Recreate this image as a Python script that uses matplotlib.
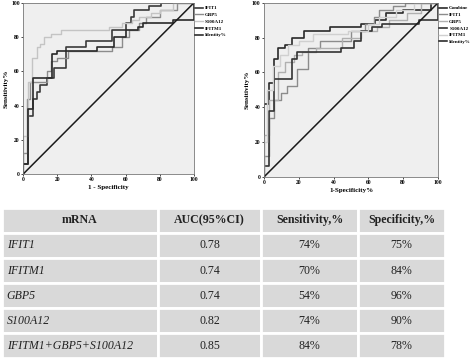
import matplotlib.pyplot as plt

plt.rcParams['font.family'] = ['Liberation Serif', 'DejaVu Serif']

# ---- left ROC panel ----
L_IFIT1_x = [0, 0, 3, 3, 6, 6, 8, 8, 10, 10, 14, 14, 18, 18, 25, 25, 37, 37, 52, 52, 60, 60, 63, 63, 65, 65, 74, 74, 81, 81, 100]
L_IFIT1_y = [0, 6, 6, 34, 34, 44, 44, 48, 48, 52, 52, 56, 56, 62, 62, 74, 74, 78, 78, 84, 84, 88, 88, 92, 92, 96, 96, 98, 98, 100, 100]
L_GBP5_x = [0, 0, 2, 2, 4, 4, 14, 14, 16, 16, 20, 20, 26, 26, 52, 52, 58, 58, 62, 62, 68, 68, 72, 72, 80, 80, 90, 90, 100]
L_GBP5_y = [0, 12, 12, 44, 44, 54, 54, 60, 60, 66, 66, 68, 68, 72, 72, 74, 74, 80, 80, 84, 84, 88, 88, 92, 92, 96, 96, 100, 100]
L_S100_x = [0, 0, 3, 3, 5, 5, 8, 8, 10, 10, 12, 12, 16, 16, 22, 22, 50, 50, 58, 58, 64, 64, 68, 68, 75, 75, 80, 80, 88, 88, 100]
L_S100_y = [0, 22, 22, 54, 54, 68, 68, 74, 74, 76, 76, 80, 80, 82, 82, 84, 84, 86, 86, 88, 88, 90, 90, 92, 92, 94, 94, 96, 96, 100, 100]
L_IFITM1_x = [0, 0, 3, 3, 6, 6, 17, 17, 20, 20, 43, 43, 53, 53, 60, 60, 67, 67, 70, 70, 88, 88, 100, 100]
L_IFITM1_y = [0, 6, 6, 38, 38, 56, 56, 70, 70, 72, 72, 74, 74, 80, 80, 84, 84, 86, 86, 88, 88, 90, 90, 100]

# ---- right ROC panel ----
R_COMB_x = [0, 0, 3, 3, 6, 6, 8, 8, 12, 12, 16, 16, 23, 23, 38, 38, 56, 56, 64, 64, 70, 70, 80, 80, 96, 96, 100]
R_COMB_y = [0, 42, 42, 54, 54, 68, 68, 74, 74, 76, 76, 80, 80, 84, 84, 86, 86, 88, 88, 90, 90, 94, 94, 96, 96, 100, 100]
R_IFIT1_x = [0, 0, 3, 3, 6, 6, 10, 10, 13, 13, 19, 19, 25, 25, 32, 32, 50, 50, 58, 58, 63, 63, 66, 66, 74, 74, 81, 81, 100]
R_IFIT1_y = [0, 12, 12, 34, 34, 44, 44, 48, 48, 52, 52, 62, 62, 74, 74, 78, 78, 84, 84, 88, 88, 92, 92, 96, 96, 98, 98, 100, 100]
R_GBP5_x = [0, 0, 3, 3, 8, 8, 12, 12, 17, 17, 22, 22, 30, 30, 45, 45, 56, 56, 65, 65, 72, 72, 82, 82, 90, 90, 100]
R_GBP5_y = [0, 24, 24, 44, 44, 60, 60, 66, 66, 70, 70, 72, 72, 74, 74, 80, 80, 84, 84, 86, 86, 90, 90, 94, 94, 100, 100]
R_S100_x = [0, 0, 3, 3, 6, 6, 16, 16, 19, 19, 44, 44, 52, 52, 56, 56, 62, 62, 68, 68, 89, 89, 100, 100]
R_S100_y = [0, 6, 6, 38, 38, 56, 56, 68, 68, 72, 72, 74, 74, 78, 78, 84, 84, 86, 86, 88, 88, 90, 90, 100]
R_IFITM1_x = [0, 0, 2, 2, 5, 5, 9, 9, 14, 14, 20, 20, 28, 28, 48, 48, 60, 60, 66, 66, 76, 76, 86, 86, 100]
R_IFITM1_y = [0, 20, 20, 50, 50, 64, 64, 70, 70, 76, 76, 78, 78, 82, 82, 84, 84, 88, 88, 92, 92, 96, 96, 100, 100]

identity = [0, 100]

# ---- table ----
col_labels = ['mRNA', 'AUC(95%CI)', 'Sensitivity,%', 'Specificity,%']
genes = ['IFIT1', 'IFITM1', 'GBP5', 'S100A12', 'IFITM1+GBP5+S100A12']
auc = ['0.78', '0.74', '0.74', '0.82', '0.85']
sens = ['74%', '70%', '54%', '74%', '84%']
spec = ['75%', '84%', '96%', '90%', '78%']

fig = plt.figure(figsize=(4.74, 3.61), dpi=100)

def roc_axes(rect, curves, xlabel):
    ax = fig.add_axes(rect)
    ax.set_facecolor('#efefef')
    for xs, ys, c, lw, lab in curves:
        ax.plot(xs, ys, color=c, lw=lw, label=lab)
    ax.plot(identity, identity, color='#1a1a1a', lw=1.1, label='Identity%')
    ax.set_xlim(0, 100)
    ax.set_ylim(0, 100)
    ax.set_xticks(range(0, 101, 20))
    ax.set_yticks(range(0, 101, 20))
    ax.tick_params(labelsize=4, length=1.5, width=0.5, pad=1)
    for t in ax.get_xticklabels() + ax.get_yticklabels():
        t.set_fontweight('bold')
    for s in ax.spines.values():
        s.set_color('#777777')
        s.set_linewidth(0.6)
    ax.set_xlabel(xlabel, fontsize=5, fontweight='bold', labelpad=2)
    ax.set_ylabel('Sensitivity%', fontsize=5, fontweight='bold', labelpad=2)
    ax.legend(loc='upper left', bbox_to_anchor=(0.99, 1.0), frameon=False,
              handlelength=1.6, handletextpad=0.4,
              labelspacing=0.45, borderaxespad=0.2, prop={'weight': 'bold', 'size': 3.6})
    return ax

roc_axes([0.049, 0.518, 0.360, 0.474],
         [(L_IFIT1_x, L_IFIT1_y, '#3a3a3a', 1.2, 'IFIT1'),
          (L_GBP5_x, L_GBP5_y, '#8c8c8c', 1.0, 'GBP5'),
          (L_S100_x, L_S100_y, '#c4c4c4', 1.0, 'S100A12'),
          (L_IFITM1_x, L_IFITM1_y, '#2a2a2a', 1.2, 'IFITM1')],
         '1 - Specificity')

roc_axes([0.557, 0.510, 0.367, 0.482],
         [(R_COMB_x, R_COMB_y, '#2a2a2a', 1.2, 'Combine'),
          (R_IFIT1_x, R_IFIT1_y, '#8c8c8c', 1.0, 'IFIT1'),
          (R_GBP5_x, R_GBP5_y, '#b0b0b0', 1.0, 'GBP5'),
          (R_S100_x, R_S100_y, '#333333', 1.2, 'S100A12'),
          (R_IFITM1_x, R_IFITM1_y, '#d0d0d0', 1.0, 'IFITM1')],
         '1-Specificity%')

# table panel
tax = fig.add_axes([0.004, 0.008, 0.935, 0.416])
tax.axis('off')
rows = [[g, a, s, p] for g, a, s, p in zip(genes, auc, sens, spec)]
tbl = tax.table(cellText=rows, colLabels=col_labels, bbox=[0, 0, 1, 1],
                colWidths=[156, 103, 97, 87])
tbl.auto_set_font_size(False)
for (r, c), cell in tbl.get_celld().items():
    cell.set_facecolor('#d9d9d9')
    cell.set_edgecolor('white')
    cell.set_linewidth(2.0)
    txt = cell.get_text()
    txt.set_fontsize(8.6)
    txt.set_color('#222222')
    if r == 0:
        txt.set_fontweight('bold')
        cell.set_text_props(ha='center')
    elif c == 0:
        txt.set_fontstyle('italic')
        cell.set_text_props(ha='left')
        cell.PAD = 0.03
    else:
        cell.set_text_props(ha='center')

fig.savefig('out.png', dpi=100)
